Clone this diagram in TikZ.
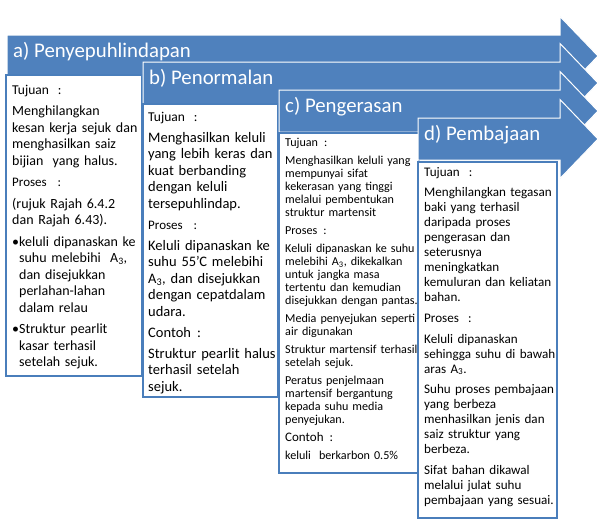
\documentclass[tikz,border=0pt]{standalone}
\usepackage{fontspec}
\setmainfont{Carlito}
\definecolor{arrowblue}{HTML}{4F81BD}
\definecolor{boxblue}{HTML}{4A7EBB}
\newcommand{\ind}{\phantom{•}}
\newcommand{\firststrut}{\rule{0pt}{12pt}}
\tikzset{
  blockarrow/.style={fill=arrowblue, draw=white, line width=1pt, line join=miter},
  infobox/.style={fill=white, draw=boxblue, line width=2.5pt},
  titletext/.style={anchor=base west, inner sep=0pt, text=white, font=\fontsize{20.8}{24}\selectfont},
  bodytext/.style={anchor=north west, inner sep=0pt, text width=200pt, align=left},
}
\begin{document}
\begin{tikzpicture}[x=1pt,y=-1pt]
\useasboundingbox (0,0) rectangle (601,530);
\fill[white] (0,0) rectangle (601,530);

% ---- a) ----
\path[blockarrow] (7,35) -- (560,35) -- (560,16.5) -- (598,56) -- (560,95.5) -- (560,77) -- (7,77) -- cycle;
\node[titletext] (ta) at (13,57) {a) Penyepuhlindapan};
\path[infobox] (6,75) rectangle (142,376);
\node[bodytext, font=\fontsize{14}{16.5}\selectfont] (ba) at (12,82) {\setlength{\parskip}{5pt}\setlength{\parindent}{0pt}%
\firststrut{\fontsize{13.5}{16.5}\selectfont Tujuan\hspace{9pt}:}\par
Menghilangkan\\ kesan kerja sejuk dan\\ menghasilkan saiz\\ bijian\ \ yang halus.\par
{\fontsize{13}{16.5}\selectfont Proses\hspace{11pt}:}\par
(rujuk Rajah 6.4.2\\ dan Rajah 6.43).\par
•keluli dipanaskan ke\\ \ind suhu melebihi\ \ A\textsubscript{3},\\ \ind dan disejukkan\\ \ind perlahan-lahan\\ \ind dalam relau\par
•Struktur pearlit\\ \ind kasar terhasil\\ \ind setelah sejuk.};

% ---- b) ----
\path[blockarrow] (143,62) -- (560,62) -- (560,43.5) -- (598,83) -- (560,122.5) -- (560,104) -- (143,104) -- cycle;
\node[titletext] (tb) at (149,84) {b) Penormalan};
\path[infobox] (143,104) rectangle (278,397);
\node[bodytext, font=\fontsize{14.5}{16.5}\selectfont] (bb) at (148,109) {\setlength{\parskip}{4.5pt}\setlength{\parindent}{0pt}%
\firststrut{\fontsize{13.5}{16.5}\selectfont Tujuan\hspace{9pt}:}\par
Menghasilkan keluli\\ yang lebih keras dan\\ kuat berbanding\\ dengan keluli\\ tersepuhlindap.\par
{\fontsize{13}{16.5}\selectfont Proses\hspace{11pt}:}\par
Keluli dipanaskan ke\\ suhu 55'C melebihi\\ A\textsubscript{3}, dan disejukkan\\ dengan cepatdalam\\ udara.\par
Contoh\hspace{6pt}:\par
Struktur pearlit halus\\ terhasil setelah\\ sejuk.};

% ---- c) ----
\path[blockarrow] (279,90) -- (560,90) -- (560,71.5) -- (598,111) -- (560,150.5) -- (560,132) -- (279,132) -- cycle;
\node[titletext] (tc) at (285,112) {c) Pengerasan};
\path[infobox] (279,133) rectangle (419,473);
\node[bodytext, font=\fontsize{12.1}{13}\selectfont] (bc) at (285,134.5) {\setlength{\parskip}{5pt}\setlength{\parindent}{0pt}%
\firststrut Tujuan\hspace{6pt}:\par
Menghasilkan keluli yang\\ mempunyai sifat\\ kekerasan yang tinggi\\ melalui pembentukan\\ struktur martensit\par
Proses\hspace{6pt}:\par
Keluli dipanaskan ke suhu\\ melebihi A\textsubscript{3}, dikekalkan\\ untuk jangka masa\\ tertentu dan kemudian\\ disejukkan dengan pantas.\par
Media penyejukan seperti\\ air digunakan\par
Struktur martensif terhasil\\ setelah sejuk.\par
Peratus penjelmaan\\ martensif bergantung\\ kepada suhu media\\ penyejukan.\par
{\fontsize{13}{13}\selectfont Contoh\hspace{6pt}:}\par
keluli\ \ berkarbon 0.5\%};

% ---- d) ----
\path[blockarrow] (418,118) -- (560,118) -- (560,99.5) -- (598,139) -- (560,178.5) -- (560,160) -- (418,160) -- cycle;
\node[titletext] (td) at (424,140) {d) Pembajaan};
\path[infobox] (418,162) rectangle (557,518);
\node[bodytext, font=\fontsize{13.1}{15}\selectfont] (bd) at (424,164) {\setlength{\parskip}{5.6pt}\setlength{\parindent}{0pt}%
\firststrut Tujuan\hspace{9pt}:\par
Menghilangkan tegasan\\ baki yang terhasil\\ daripada proses\\ pengerasan dan\\ seterusnya\\ meningkatkan\\ kemuluran dan keliatan\\ bahan.\par
Proses\hspace{9pt}:\par
Keluli dipanaskan\\ sehingga suhu di bawah\\ aras A\textsubscript{3}.\par
Suhu proses pembajaan\\ yang berbeza\\ menhasilkan jenis dan\\ saiz struktur yang\\ berbeza.\par
Sifat bahan dikawal\\ melalui julat suhu\\ pembajaan yang sesuai.};
\end{tikzpicture}
\end{document}
